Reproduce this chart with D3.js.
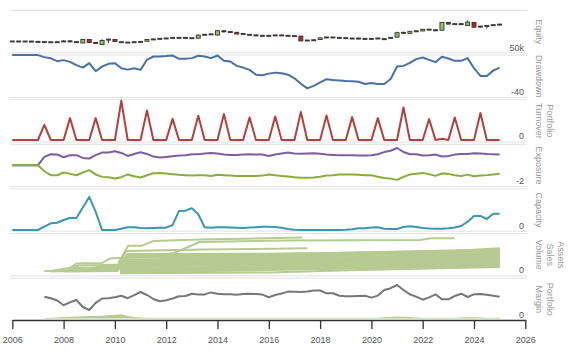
<!DOCTYPE html>
<html><head><meta charset="utf-8">
<script src="https://cdn.jsdelivr.net/npm/d3@7"></script>
<style>
body{margin:0;background:#fff;}
svg{display:block;font-family:"Liberation Sans",Arial,Helvetica,sans-serif;}
</style></head><body>
<svg id="chart" width="580" height="360"></svg>
<script>
// ---------- DATA ----------
const startYear = 2006;
const dates = d3.range(77).map(i => startYear + i / 4); // quarterly 2006..2025
const xTicks = [2006,2008,2010,2012,2014,2016,2018,2020,2022,2024,2026];

const equityOpen  = [67.8,67.9,67.8,67.9,67.4,67.0,66.5,66.4,67.8,68.2,66.8,65.1,71.6,65.9,62.1,71.2,71.6,66.6,65.9,66.5,67.0,68.3,71.7,72.8,73.5,74.6,74.6,74.6,74.0,74.0,80.3,81.0,79.7,86.8,85.3,84.8,81.6,80.2,79.2,78.4,78.4,79.1,79.1,78.4,77.8,77.8,69.7,70.2,71.6,75.3,75.3,74.6,74.0,73.4,73.4,72.7,72.8,73.4,72.2,74.6,75.9,84.0,82.9,86.7,87.2,89.7,88.6,88.6,102.9,99.9,99.9,97.2,102.9,95.4,96.7,98.0,99.1];
const equityClose = [67.9,67.8,67.9,67.6,67.0,66.5,66.4,66.7,68.2,68.0,66.4,71.6,65.9,64.2,69.7,71.5,67.8,66.4,65.8,66.4,67.2,71.6,71.6,72.7,73.4,74.5,74.5,74.5,73.9,79.7,80.2,80.9,87.8,86.6,85.2,81.6,81.5,80.1,79.0,78.3,78.3,79.0,79.0,78.3,77.7,68.9,69.6,70.1,74.6,75.2,75.2,74.5,73.9,73.3,73.2,72.6,72.6,73.3,72.0,74.5,84.0,83.8,86.7,86.6,90.4,89.6,88.4,102.9,99.9,99.8,99.7,103.7,94.2,95.2,96.5,97.9,98.9];
const equityHigh  = [68.1,68.0,68.1,68.0,67.6,67.1,66.7,68.6,70.2,70.0,67.0,72.0,71.9,66.1,72.0,71.8,71.9,66.8,66.1,66.7,68.8,71.9,71.9,73.0,73.7,74.8,74.8,74.8,74.2,80.0,80.5,81.2,89.3,89.2,85.5,85.0,81.8,80.4,80.4,78.6,78.6,79.3,79.3,78.6,78.0,78.0,69.9,70.4,74.9,75.5,75.5,74.8,74.2,73.6,74.8,72.9,74.2,73.6,73.6,74.8,86.0,85.6,87.0,86.9,90.7,89.9,90.1,103.2,103.1,100.1,101.3,106.7,103.1,96.9,97.0,98.2,100.4];
const equityLow   = [67.6,67.6,67.6,67.4,66.8,66.3,66.2,64.8,66.6,66.5,66.2,64.8,65.5,63.8,61.8,65.2,67.5,66.2,65.6,66.2,65.6,68.1,71.4,72.5,73.2,74.3,74.3,74.3,73.7,73.8,80.0,80.7,79.5,84.0,85.0,81.4,81.3,79.9,77.8,78.1,78.1,78.8,78.8,78.1,77.5,68.6,69.4,69.9,71.4,75.0,75.0,74.3,73.7,73.1,71.8,72.4,71.2,73.1,70.6,74.3,75.7,82.3,82.7,86.4,87.0,89.4,87.0,88.4,99.7,99.6,98.4,97.0,94.0,93.9,91.6,97.7,97.8];

const drawdown = [0,0,0,0,0,-2,-3.2,-6,-5,-6.7,-10,-12.4,-8,-16,-11.4,-8.7,-8,-13,-14.4,-13,-14.7,
  -4.7,-1.4,-1.4,-1,-0.4,-3.7,-3.7,-3,-0.7,-1.4,-3,-0.4,-5.7,-6.4,-10.7,-12.4,-14.7,-19.4,-20,-18.4,-17.4,-18,-19.5,
  -23,-28.5,-33,-30.5,-27,-24,-24.7,-25.2,-25.7,-26,-26.4,-28.7,-27.7,-28.7,-28.7,-23.7,-11.4,-10.7,-7.7,-4,-2.4,-4.7,-7,-1.7,-3.4,-5.7,-5.7,-3,-13,-20.7,-20.7,-15.4,-12.4];

const turnover = [0,0,0,0,0,15,0,0,0,21.7,0,0,0,21.7,0,0,0,39,0,0,0,29.3,0,0,0,21,0,0,0,24,0,0,0,25.7,0,0,0,22.3,0,0,0,23.3,0,0,0,27.7,0,0,0,24.3,0,0,0,22.7,0,0,0,21.7,0,0,0,32.3,0,0,0,20.7,0,1.3,0,22.3,0,0,0,26.7,0,0,0];

const exposureLong = [0,0,0,0,0,0.85,1.13,1.10,0.82,1.03,1.03,0.75,0.69,1.03,1.30,1.30,1.44,1.26,0.95,1.16,1.33,
  1.16,0.89,0.79,0.85,0.92,0.99,1.03,1.13,1.13,1.20,1.26,1.20,1.10,1.06,1.06,1.10,1.13,1.10,1.10,0.95,1.10,1.20,1.30,
  1.21,1.17,1.20,1.23,1.18,1.10,1.06,1.03,1.03,1.03,1.01,0.99,1.02,1.13,1.35,1.49,1.77,1.36,1.13,1.13,0.99,1.03,1.09,0.90,0.94,1.09,1.16,1.16,1.22,1.20,1.15,1.13,1.10];
const exposureShort = [0,0,0,0,0,-0.62,-1.03,-1.03,-0.75,-0.89,-1.03,-0.75,-0.51,-0.95,-1.20,-1.23,-1.36,-1.23,-0.95,-1.13,-1.26,
  -1.03,-0.82,-0.79,-0.85,-0.92,-0.99,-1.03,-1.06,-1.03,-1.03,-1.10,-0.99,-1.03,-1.06,-1.10,-1.10,-1.10,-1.10,-1.07,-0.95,-1.03,-1.10,-1.16,
  -1.25,-1.28,-1.30,-1.27,-1.18,-1.06,-1.03,-0.95,-0.95,-0.96,-0.99,-1.03,-1.03,-1.18,-1.31,-1.38,-1.51,-1.20,-0.95,-0.89,-0.79,-0.92,-1.10,-0.85,-0.89,-1.03,-1.10,-0.97,-1.13,-1.06,-1.02,-0.96,-0.89];

const capacity = [0,0,0,0,0,3.3,6.7,7.2,10,12,12,22.5,33,18,0,0,0,1.3,2.7,2.7,2,1.7,2,2.3,2.3,5,19,19.3,21.7,15.7,
  2.7,2.3,2.7,2.7,2.4,2.2,2,2.5,2.8,3.3,3.3,3,2.3,1,0.2,0,0,0,0,0,0,0,0.2,0.8,1.7,1.7,2.5,2.7,1.3,1.1,1,
  3,3.8,3,2,1.5,1.3,1.3,1.7,2.5,4,8.3,14,14,11,16.3,16.3];

// Assets sales volume: one line per asset, [year, volume]
const assetLines = [
  [[2007.25,3],[2008.1,3],[2008.5,10.5],[2009.5,11],[2009.8,15.5],[2010.1,16],[2025,22]],
  [[2007.5,3],[2008.2,6],[2008.6,8.5],[2009.6,9],[2025,20]],
  [[2007.5,2.5],[2008.1,3],[2008.5,6],[2025,15]],
  [[2007.75,3],[2009.0,4],[2009.4,8],[2025,18]],
  [[2008.0,2.5],[2010.1,3],[2010.3,12],[2025,19]],
  [[2008.25,3.5],[2010.1,4],[2010.4,14],[2025,23]],
  [[2008.5,4],[2010.2,6],[2010.5,17],[2025,24.5]],
  [[2009.0,4],[2010.2,8],[2025,13]],
  [[2009.5,5],[2010.2,5],[2025,10]],
  [[2010.2,0.7],[2016,1.5],[2019.5,4],[2025,7]],
  [[2010.2,2],[2025,9]],
  [[2010.3,4],[2025,12]],
  [[2010.5,6],[2011,10],[2025,16]],
  [[2011.0,8],[2025,17]],
  [[2011.5,11],[2025,21]],
  [[2012.0,12],[2025,14]],
  [[2010.2,9],[2010.5,18],[2025,23.5]],
  [[2010.2,3],[2025,11]],
  [[2010.4,5],[2025,13.5]],
  [[2010.6,7],[2025,15.5]],
  [[2011.2,9.5],[2025,18.5]],
  [[2010.3,1.4],[2025,8]],
  [[2010.4,10.5],[2025,20.5]],
  [[2010.6,12.5],[2025,22.5]],
  [[2021.0,19],[2023.8,24],[2025,25.7]],
  [[2010.13,11],[2010.52,28.3],[2011.04,28.3],[2011.5,33],[2013.3,34.5],[2017.3,36.5]],
  [[2011.3,17],[2012.3,21],[2013.3,32],[2016.8,33.5],[2021.9,34],[2022.3,35.7],[2023.25,35.7]],
  [[2010.13,8],[2010.45,23],[2013.5,24.5],[2017.5,25.7]],
  [[2010.13,5],[2010.5,20],[2017.3,20.5]]
];

const margin = [null,null,null,null,null,21.8,20.2,18,13.3,16.2,18.5,11.5,8.5,15.7,20,20.2,21.2,22.7,20.3,23.3,26.5,
  23.5,19.5,17.2,18.3,20,22.2,22.5,24.8,23.9,24.1,26.1,24.7,24.2,24.2,23.8,24.5,24.8,24.5,23.9,21.3,23.5,25,26.9,
  26.7,26.6,27,28.1,28,25.2,25.2,22.8,22.2,22.2,22.5,22.8,20.9,22.9,28.5,30.3,33.5,28.5,24.1,21.8,18.8,21.1,24.1,19.2,19.2,22.5,24.8,21.5,24.2,24.5,23.7,22.7,21.8];
const marginUsed = [null,null,null,null,null,0.4,0.8,1.1,1.4,1.7,2,2.2,2.4,2.6,2.8,3.2,3.8,4.3,2.5,1.5,1,
  0.8,0.8,0.8,0.8,0.8,0.8,0.8,0.8,0.8,0.8,0.8,0.8,0.8,0.8,0.8,0.8,0.8,0.8,0.8,0.8,0.8,0.8,0.8,
  0.8,0.8,0.8,0.8,0.8,0.8,0.8,0.8,0.8,0.8,0.8,0.8,0.8,0.8,1.2,1.6,2,1.8,1.4,1,0.8,0.8,0.8,0.8,0.8,0.8,1,1.3,1.3,1.1,0.8,0.8,0.8];

const panelNames = [["Equity"],["Drawdown"],["Portfolio","Turnover"],["Exposure"],["Capacity"],["Assets","Sales","Volume"],["Portfolio","Margin"]];
const panelTicks = [[50,"50k"],[-40,"-40"],[0,"0"],[-2,"-2"],[0,"0"],[0,"0"],[0,"0"]];
const panelDomains = [[47,125],[-42,0],[-2,40],[-2.2,2.15],[-1.2,41],[-1.8,40.5],[-1.9,40.4]];

// ---------- LAYOUT ----------
const svg = d3.select("#chart");
const x = d3.scaleLinear().domain([2006,2026]).range([12.3,525.3]);
const top0 = 10.5, pitch = 44.6, ph = 42.3;
const panels = panelNames.map((n,k) => {
  const t = top0 + k*pitch, b = t + ph;
  return {t, b, y: d3.scaleLinear().domain(panelDomains[k]).range([b, t])};
});

// grid lines
panels.forEach(p => {
  [p.t, p.b].forEach(v => svg.append("line").attr("x1",10).attr("x2",527)
    .attr("y1",v).attr("y2",v).attr("stroke","#e2e2e2").attr("stroke-width",1));
});

// panel tick labels + names
panels.forEach((p,k) => {
  const g = svg.append("g").attr("transform","translate(526,0)")
    .call(d3.axisLeft(p.y).tickValues([panelTicks[k][0]]).tickFormat(() => panelTicks[k][1]).tickSize(0).tickPadding(2));
  g.select(".domain").remove();
  g.selectAll("text").attr("dy","-0.12em").attr("fill","#555").style("font-size","9px").style("font-family","Liberation Sans, Arial, sans-serif");
  const names = panelNames[k], n = names.length;
  const lab = svg.append("text").attr("transform",`translate(536,${(p.t+p.b)/2}) rotate(90)`)
    .attr("text-anchor","middle").attr("fill","#999").style("font-size","9px");
  names.forEach((s,j) => lab.append("tspan").attr("x",0).attr("y",-(n-1-j)*11).text(s));
});

const lineOf = (yS) => d3.line().defined(d => d[1] != null).x(d => x(d[0])).y(d => yS(d[1]));
const drawLine = (p, vals, color) => svg.append("path")
  .attr("d", lineOf(p.y)(dates.map((d,i) => [d, vals[i]])))
  .attr("fill","none").attr("stroke",color).attr("stroke-width",2).attr("stroke-linejoin","round");

// Equity candles
{
  const p = panels[0], bw = 4;
  const g = svg.append("g");
  dates.forEach((d,i) => {
    const o = equityOpen[i], c = equityClose[i];
    const cx = x(d);
    g.append("line").attr("x1",cx).attr("x2",cx).attr("y1",p.y(equityHigh[i])).attr("y2",p.y(equityLow[i]))
      .attr("stroke","#333").attr("stroke-width",1);
    const y1 = p.y(Math.max(o,c)), y2 = p.y(Math.min(o,c));
    const h = Math.max(y2 - y1, 1);
    g.append("rect").attr("x",cx - bw/2).attr("y",(y1+y2)/2 - h/2).attr("width",bw).attr("height",h)
      .attr("fill", c >= o ? "#8fc46a" : "#c0281c").attr("stroke","#333").attr("stroke-width",0.9);
  });
}
drawLine(panels[1], drawdown, "#4a70a8");
drawLine(panels[2], turnover, "#b2413d");
drawLine(panels[3], exposureLong, "#7d5fa0");
drawLine(panels[3], exposureShort, "#8aac3c");
drawLine(panels[4], capacity, "#3a97ad");
// assets
{
  const p = panels[5];
  const ln = d3.line().x(d => x(d[0])).y(d => p.y(d[1]));
  assetLines.forEach(a => svg.append("path").attr("d", ln(a)).attr("fill","none")
    .attr("stroke","#b6ca92").attr("stroke-width",2));
}
// margin
{
  const p = panels[6];
  const ar = d3.area().defined(d => d[1] != null).x(d => x(d[0])).y0(p.y(0)).y1(d => p.y(d[1]));
  svg.append("path").attr("d", ar(dates.map((d,i) => [d, marginUsed[i]]))).attr("fill","#b6ca92");
  drawLine(p, margin, "#777");
}

// x axis
const ax = svg.append("g").attr("transform","translate(0,320)")
  .call(d3.axisBottom(x).tickValues(xTicks).tickFormat(d3.format("d")).tickSize(9).tickSizeOuter(0).tickPadding(8));
ax.select(".domain").attr("stroke","#333").attr("stroke-width",1.3);
ax.selectAll(".tick line").attr("stroke","#333").attr("stroke-width",1.3);
ax.selectAll("text").attr("fill","#555").style("font-size","9px").style("font-family","Liberation Sans, Arial, sans-serif");
</script>
</body></html>
